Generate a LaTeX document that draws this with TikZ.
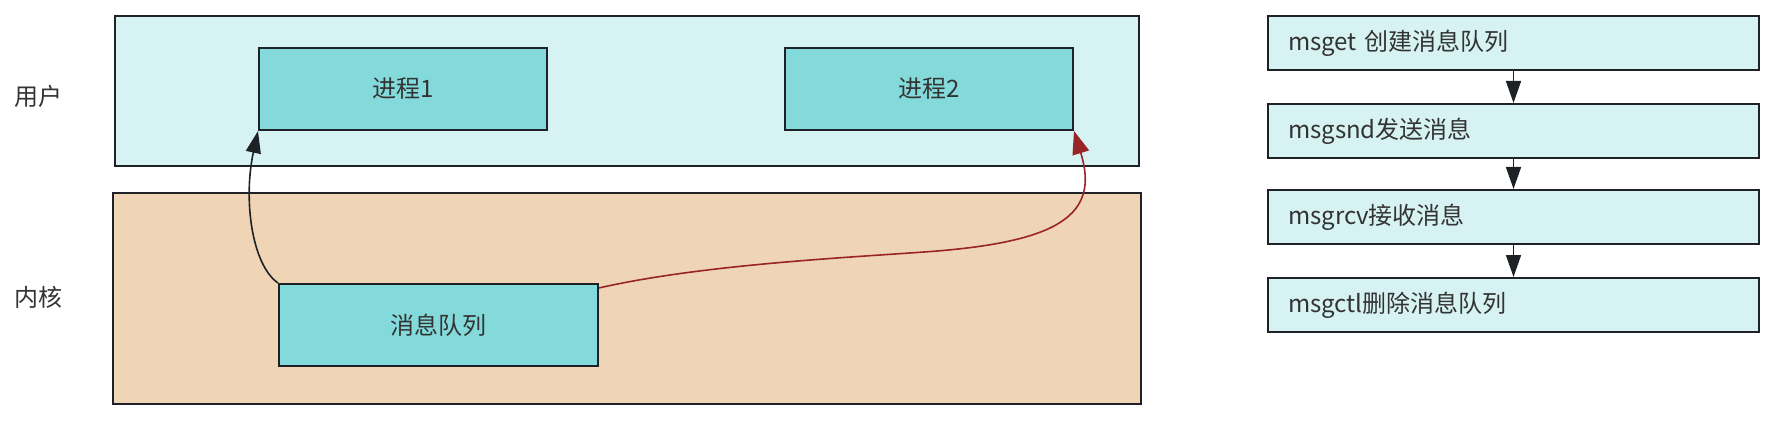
\documentclass[tikz,border=0pt]{standalone}
\usepackage{fontspec}
\usepackage{color}
\usepackage{tikz}
\usetikzlibrary{arrows.meta}
\newfontfamily\cjk{Noto Sans CJK SC}
\definecolor{userback}{RGB}{214,242,242}
\definecolor{kernelback}{RGB}{239,212,182}
\definecolor{procback}{RGB}{132,218,218}
\definecolor{edgeline}{RGB}{30,34,38}
\definecolor{textgray}{RGB}{51,51,51}
\definecolor{sendred}{RGB}{152,36,40}

\begin{document}
\begin{tikzpicture}[x=1pt,y=-1pt,
  every node/.style={font=\cjk\fontsize{24}{29}\selectfont,text=textgray},
  region/.style={draw=edgeline,line width=2pt,inner sep=0pt},
  procbox/.style={draw=edgeline,line width=2pt,fill=procback,minimum width=288pt,minimum height=82pt,inner sep=0pt},
  apibox/.style={draw=edgeline,line width=2pt,fill=userback,text width=451pt,inner xsep=20pt,inner ysep=0pt,minimum height=54pt,align=left},
  flow/.style={line width=1.6pt,draw=edgeline,-{Triangle[length=22pt,width=15pt]}}]
\useasboundingbox (0,0) rectangle (1768,422);
% user and kernel space
\node [region,fill=userback,minimum width=1024pt,minimum height=150pt] (user) at (627,91) {};
\node [region,fill=kernelback,minimum width=1028pt,minimum height=211pt] (kernel) at (627,298.5) {};
\node (userlabel) at (38,96) {用户};
\node (kernellabel) at (38,297) {内核};
% processes and the queue
\node [procbox] (p1) at (403,89) {进程1};
\node [procbox] (p2) at (929,89) {进程2};
\node [procbox,minimum width=319pt] (queue) at (438.5,325) {消息队列};
\draw [flow] (queue.north west) .. controls (252,265) and (243,200) .. (p1.south west);
\draw [flow,draw=sendred,-{Triangle[length=23pt,width=17pt]}] (queue.13) .. controls (700,265) and (840,258) .. (924,252)
  .. controls (1060,242.5) and (1100,215) .. (p2.south east);
% system calls
\node [apibox] (create) at (1513.5,43) {msget 创建消息队列};
\node [apibox] (send) at (1513.5,131) {msgsnd发送消息};
\node [apibox] (recv) at (1513.5,217) {msgrcv接收消息};
\node [apibox] (ctl) at (1513.5,305) {msgctl删除消息队列};
\draw [flow] (create) -- (send);
\draw [flow] (send) -- (recv);
\draw [flow] (recv) -- (ctl);
\end{tikzpicture}
\end{document}
